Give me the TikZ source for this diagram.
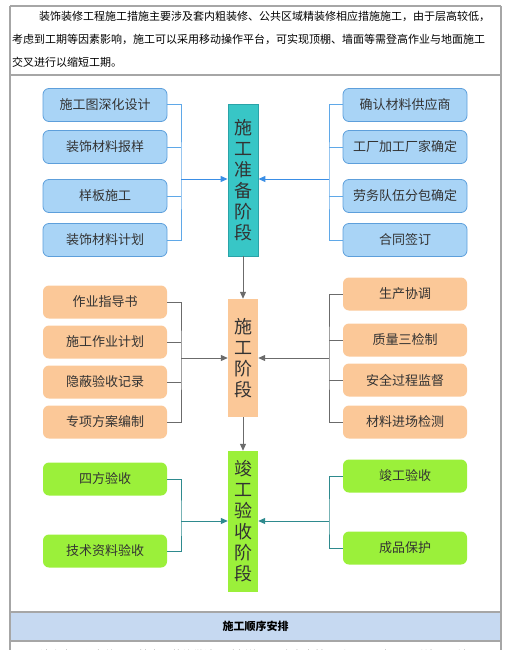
\documentclass[tikz,border=0pt]{standalone}
\usepackage{fontspec}
\setmainfont{Noto Sans CJK SC}
\XeTeXlinebreaklocale "zh"
\XeTeXlinebreakskip=0pt plus 3pt
\usetikzlibrary{arrows.meta}
\definecolor{txt}{HTML}{333333}
\definecolor{framec}{HTML}{A6A6A6}
\definecolor{hdrfill}{HTML}{C6D9F1}
\definecolor{tealfill}{HTML}{38C6C6}
\definecolor{tealline}{HTML}{2AA3A8}
\definecolor{orfill}{HTML}{FBC898}
\definecolor{grfill}{HTML}{9BF03A}
\definecolor{bfill}{HTML}{A9D4F6}
\definecolor{bline}{HTML}{5D9FDB}
\definecolor{bconn}{HTML}{5FA8E8}
\definecolor{barrow}{HTML}{3A8EE6}
\definecolor{gconn}{HTML}{6B6B6B}
\definecolor{tconn}{HTML}{2E8A8E}
\tikzset{
  subbox/.style={rounded corners=6pt, minimum width=124pt, minimum height=33pt,
    font=\fontsize{13}{13}\selectfont, text=txt, inner sep=0pt},
  bluebox/.style={subbox, fill=bfill, draw=bline, line width=0.8pt},
  orbox/.style={subbox, fill=orfill},
  grbox/.style={subbox, fill=grfill},
  phasebox/.style={minimum width=30pt, align=center, text=txt, inner sep=0pt,
    font=\fontsize{18}{21}\selectfont},
  bconnstyle/.style={draw=bconn, line width=1pt},
  gconnstyle/.style={draw=gconn, line width=1pt},
  tconnstyle/.style={draw=tconn, line width=1pt},
  tipb/.style={-{Triangle[length=7pt,width=6pt]}, draw=barrow, line width=1pt},
  tipg/.style={-{Triangle[length=7pt,width=6pt]}, draw=gconn, line width=1pt},
  tipt/.style={-{Triangle[length=7pt,width=6pt]}, draw=tconn, line width=1pt},
  framestyle/.style={draw=framec, line width=1.3pt},
  para/.style={anchor=west, inner sep=0pt, text=black, font=\fontsize{11}{11}\selectfont}
}
\begin{document}
\begin{tikzpicture}[x=1pt,y=-1pt]
\useasboundingbox (0,0) rectangle (511,650);
\clip (0,0) rectangle (511,650);
% table frame
\fill[hdrfill] (10,612) rectangle (501,641);
\draw[framestyle] (10,6) -- (501,6);
\draw[framestyle] (10,75) -- (501,75);
\draw[framestyle] (10,612) -- (501,612);
\draw[framestyle] (10,641) -- (501,641);
\draw[framestyle] (10,6) -- (10,660);
\draw[framestyle] (501,6) -- (501,660);
% top paragraph
\node[para] (t1) at (39,16) {\makebox[453pt][s]{装饰装修工程施工措施主要涉及套内粗装修、公共区域精装修相应措施施工，由于层高较低，}};
\node[para] (t2) at (12,39) {\makebox[483pt][s]{考虑到工期等因素影响，施工可以采用移动操作平台，可实现顶棚、墙面等需登高作业与地面施工}};
\node[para] (t3) at (12,62) {交叉进行以缩短工期。};
% header
\node[font=\bfseries\fontsize{11}{11}\selectfont, text=black] (hdr) at (255.5,626.5) {施工顺序安排};
\node[para] (b1) at (39,655) {\makebox[453pt][s]{结合本工程各施工区特点及装修做法，计划施工顺序为先基层后面层，先吊顶后墙面再地面}};
% phases
\node[phasebox, fill=tealfill, draw=tealline, line width=0.8pt, minimum height=152pt] (p1) at (243,180) {施\\工\\准\\备\\阶\\段};
\node[phasebox, fill=orfill, minimum height=118pt] (p2) at (243,358) {施\\工\\阶\\段};
\node[phasebox, fill=grfill, minimum height=141pt] (p3) at (243,521.5) {竣\\工\\验\\收\\阶\\段};
% group 1
\node[bluebox] (l1) at (105,105) {施工图深化设计};
\node[bluebox] (l2) at (105,147) {装饰材料报样};
\node[bluebox] (l3) at (105,196) {样板施工};
\node[bluebox] (l4) at (105,240) {装饰材料计划};
\node[bluebox] (r1) at (405,105) {确认材料供应商};
\node[bluebox] (r2) at (405,147) {工厂加工厂家确定};
\node[bluebox] (r3) at (405,196) {劳务队伍分包确定};
\node[bluebox] (r4) at (405,240) {合同签订};
% group 2
\node[orbox] (l5) at (105,302) {作业指导书};
\node[orbox] (l6) at (105,342) {施工作业计划};
\node[orbox] (l7) at (105,382) {隐蔽验收记录};
\node[orbox] (l8) at (105,422) {专项方案编制};
\node[orbox] (r5) at (405,294) {生产协调};
\node[orbox] (r6) at (405,340) {质量三检制};
\node[orbox] (r7) at (405,380) {安全过程监督};
\node[orbox] (r8) at (405,422) {材料进场检测};
% group 3
\node[grbox] (l9) at (105,479) {四方验收};
\node[grbox] (l10) at (105,551) {技术资料验收};
\node[grbox] (r9) at (405,476) {竣工验收};
\node[grbox] (r10) at (405,548) {成品保护};
% junctions
\coordinate (jL1) at (181,179);
\coordinate (jR1) at (329,179);
\coordinate (jL2) at (181,358);
\coordinate (jR2) at (329,358);
\coordinate (jL3) at (181,521);
\coordinate (jR3) at (329,521);
% connectors group 1
\draw[bconnstyle] (l1.east) -| (jL1) |- (l4.east);
\draw[bconnstyle] (l2.east) -- (l2.east -| jL1);
\draw[bconnstyle] (l3.east) -- (l3.east -| jL1);
\draw[tipb] (jL1) -- (jL1 -| p1.west);
\draw[bconnstyle] (r1.west) -| (jR1) |- (r4.west);
\draw[bconnstyle] (r2.west) -- (r2.west -| jR1);
\draw[bconnstyle] (r3.west) -- (r3.west -| jR1);
\draw[tipb] (jR1) -- (jR1 -| p1.east);
% connectors group 2
\draw[gconnstyle] (l5.east) -| (jL2) |- (l8.east);
\draw[gconnstyle] (l6.east) -- (l6.east -| jL2);
\draw[gconnstyle] (l7.east) -- (l7.east -| jL2);
\draw[tipg] (jL2) -- (jL2 -| p2.west);
\draw[gconnstyle] (r5.west) -| (jR2) |- (r8.west);
\draw[gconnstyle] (r6.west) -- (r6.west -| jR2);
\draw[gconnstyle] (r7.west) -- (r7.west -| jR2);
\draw[tipg] (jR2) -- (jR2 -| p2.east);
% connectors group 3
\draw[tconnstyle] (l9.east) -| (jL3) |- (l10.east);
\draw[tipt] (jL3) -- (jL3 -| p3.west);
\draw[tconnstyle] (r9.west) -| (jR3) |- (r10.west);
\draw[tipt] (jR3) -- (jR3 -| p3.east);
% phase arrows
\draw[tipg] (p1.south) -- (p2.north);
\draw[tipg] (p2.south) -- (p3.north);
\end{tikzpicture}
\end{document}
